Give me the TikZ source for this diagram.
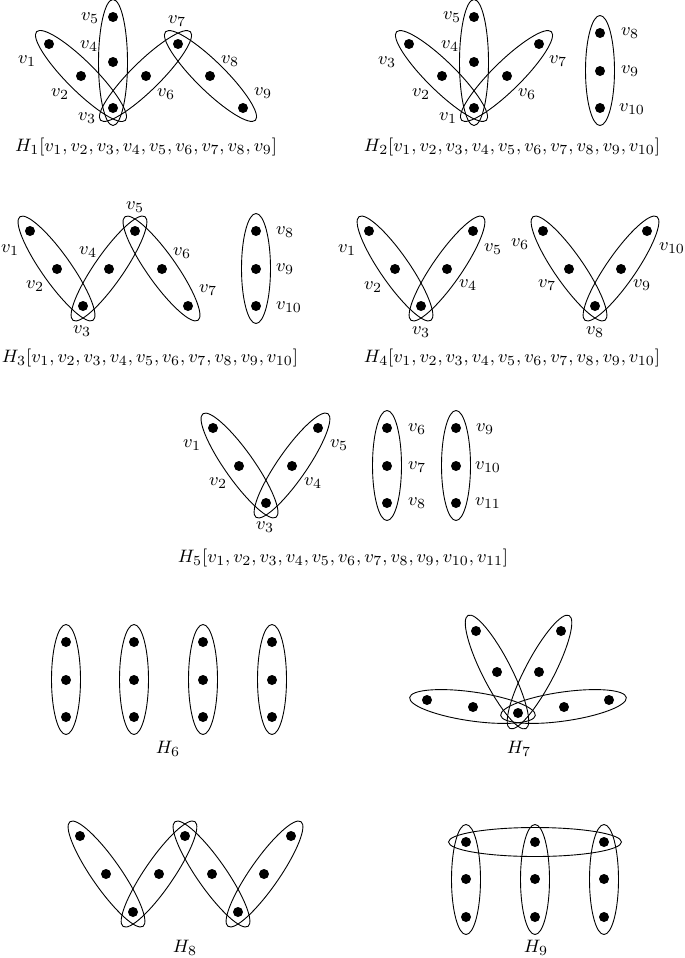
\documentclass[tikz,border=0pt]{standalone}
\usetikzlibrary{calc,shapes.geometric}
\tikzset{
  dot/.style={circle,fill=black,inner sep=0pt,minimum size=5pt},
  edgeel/.style={draw=black,line width=0.45pt,ellipse,inner sep=0pt,minimum height=14.5pt},
  lbl/.style={inner sep=0pt,font=\fontsize{9.4pt}{11pt}\selectfont},
  ttl/.style={inner sep=0pt,font=\fontsize{9.3pt}{11pt}\selectfont}
}
\newcommand{\hedge}[3]{%
  \path let \p1=($(#3)-(#2)$), \n1={atan2(\y1,\x1)}, \n2={veclen(\x1,\y1)} in
    node[edgeel, minimum width=\n2+17.5pt, rotate=\n1] (#1) at ($(#2)!0.5!(#3)$) {};}
\begin{document}
\begin{tikzpicture}[x=0.5pt,y=-0.5pt]
\useasboundingbox (0,0) rectangle (685,958);
% ---------- H1 ----------
\node[dot] (a1) at (49,44) {};
\node[dot] (a2) at (81,76) {};
\node[dot] (a3) at (113,108) {};
\node[dot] (a4) at (113,62) {};
\node[dot] (a5) at (113,17) {};
\node[dot] (a6) at (146,76) {};
\node[dot] (a7) at (178,44) {};
\node[dot] (a8) at (210,76) {};
\node[dot] (a9) at (243,108) {};
\hedge{ea1}{a1}{a3}
\hedge{ea2}{a5}{a3}
\hedge{ea3}{a3}{a7}
\hedge{ea4}{a7}{a9}
\node[lbl] (la1) at (27,61) {$v_1$};
\node[lbl] (la2) at (60,94) {$v_2$};
\node[lbl] (la3) at (87,118) {$v_3$};
\node[lbl] (la4) at (89,46) {$v_4$};
\node[lbl] (la5) at (90,18) {$v_5$};
\node[lbl] (la6) at (166,94) {$v_6$};
\node[lbl] (la7) at (177,21) {$v_7$};
\node[lbl] (la8) at (230,61) {$v_8$};
\node[lbl] (la9) at (263,93) {$v_9$};
\node[ttl] (ta) at (146,147) {$H_1[v_1,v_2,v_3,v_4,v_5,v_6,v_7,v_8,v_9]$};
% ---------- H2 ----------
\node[dot] (b5) at (474,17) {};
\node[dot] (b4) at (474,62) {};
\node[dot] (b1) at (474,108) {};
\node[dot] (b3) at (409,44) {};
\node[dot] (b2) at (442,76) {};
\node[dot] (b6) at (507,76) {};
\node[dot] (b7) at (539,44) {};
\node[dot] (b8) at (600,33) {};
\node[dot] (b9) at (600,71) {};
\node[dot] (b10) at (600,108) {};
\hedge{eb1}{b3}{b1}
\hedge{eb2}{b5}{b1}
\hedge{eb3}{b1}{b7}
\hedge{eb4}{b8}{b10}
\node[lbl] (lb5) at (452,17) {$v_5$};
\node[lbl] (lb4) at (450,46) {$v_4$};
\node[lbl] (lb3) at (387,62) {$v_3$};
\node[lbl] (lb2) at (421,94) {$v_2$};
\node[lbl] (lb1) at (448,118) {$v_1$};
\node[lbl] (lb6) at (527,94) {$v_6$};
\node[lbl] (lb7) at (558,61) {$v_7$};
\node[lbl] (lb8) at (630,33) {$v_8$};
\node[lbl] (lb9) at (630,71) {$v_9$};
\node[lbl] (lb10) at (632,109) {$v_{10}$};
\node[ttl] (tb) at (512,147) {$H_2[v_1,v_2,v_3,v_4,v_5,v_6,v_7,v_8,v_9,v_{10}]$};
% ---------- H3 ----------
\node[dot] (c1) at (30,231) {};
\node[dot] (c2) at (57,269) {};
\node[dot] (c3) at (83,306) {};
\node[dot] (c4) at (109,269) {};
\node[dot] (c5) at (135,231) {};
\node[dot] (c6) at (162,269) {};
\node[dot] (c7) at (188,306) {};
\node[dot] (c8) at (256,231) {};
\node[dot] (c9) at (256,269) {};
\node[dot] (c10) at (256,306) {};
\hedge{ec1}{c1}{c3}
\hedge{ec2}{c3}{c5}
\hedge{ec3}{c5}{c7}
\hedge{ec4}{c8}{c10}
\node[lbl] (lc1) at (10,250) {$v_1$};
\node[lbl] (lc2) at (35,286) {$v_2$};
\node[lbl] (lc3) at (82,331) {$v_3$};
\node[lbl] (lc4) at (88,252) {$v_4$};
\node[lbl] (lc5) at (135,207) {$v_5$};
\node[lbl] (lc6) at (182,253) {$v_6$};
\node[lbl] (lc7) at (208,290) {$v_7$};
\node[lbl] (lc8) at (285,232) {$v_8$};
\node[lbl] (lc9) at (285,269) {$v_9$};
\node[lbl] (lc10) at (289,307) {$v_{10}$};
\node[ttl] (tc) at (150,358) {$H_3[v_1,v_2,v_3,v_4,v_5,v_6,v_7,v_8,v_9,v_{10}]$};
% ---------- H4 ----------
\node[dot] (d1) at (369,231) {};
\node[dot] (d2) at (395,269) {};
\node[dot] (d3) at (421,306) {};
\node[dot] (d4) at (447,269) {};
\node[dot] (d5) at (473,231) {};
\node[dot] (d6) at (543,231) {};
\node[dot] (d7) at (569,269) {};
\node[dot] (d8) at (595,306) {};
\node[dot] (d9) at (621,269) {};
\node[dot] (d10) at (647,231) {};
\hedge{ed1}{d1}{d3}
\hedge{ed2}{d3}{d5}
\hedge{ed3}{d6}{d8}
\hedge{ed4}{d8}{d10}
\node[lbl] (ld1) at (347,250) {$v_1$};
\node[lbl] (ld2) at (373,287) {$v_2$};
\node[lbl] (ld3) at (421,332) {$v_3$};
\node[lbl] (ld4) at (468,285) {$v_4$};
\node[lbl] (ld5) at (493,249) {$v_5$};
\node[lbl] (ld6) at (520,244) {$v_6$};
\node[lbl] (ld7) at (547,285) {$v_7$};
\node[lbl] (ld8) at (595,332) {$v_8$};
\node[lbl] (ld9) at (642,285) {$v_9$};
\node[lbl] (ld10) at (672,248) {$v_{10}$};
\node[ttl] (td) at (512,358) {$H_4[v_1,v_2,v_3,v_4,v_5,v_6,v_7,v_8,v_9,v_{10}]$};
% ---------- H5 ----------
\node[dot] (e1) at (213,428) {};
\node[dot] (e2) at (239,466) {};
\node[dot] (e3) at (266,503) {};
\node[dot] (e4) at (292,466) {};
\node[dot] (e5) at (318,428) {};
\node[dot] (e6) at (387,428) {};
\node[dot] (e7) at (387,466) {};
\node[dot] (e8) at (387,503) {};
\node[dot] (e9) at (456,428) {};
\node[dot] (e10) at (456,466) {};
\node[dot] (e11) at (456,503) {};
\hedge{ee1}{e1}{e3}
\hedge{ee2}{e3}{e5}
\hedge{ee3}{e6}{e8}
\hedge{ee4}{e9}{e11}
\node[lbl] (le1) at (192,445) {$v_1$};
\node[lbl] (le2) at (218,483) {$v_2$};
\node[lbl] (le3) at (265,527) {$v_3$};
\node[lbl] (le4) at (313,483) {$v_4$};
\node[lbl] (le5) at (339,445) {$v_5$};
\node[lbl] (le6) at (417,429) {$v_6$};
\node[lbl] (le7) at (417,467) {$v_7$};
\node[lbl] (le8) at (417,503) {$v_8$};
\node[lbl] (le9) at (485,429) {$v_9$};
\node[lbl] (le10) at (488,467) {$v_{10}$};
\node[lbl] (le11) at (488,503) {$v_{11}$};
\node[ttl] (te) at (343,558) {$H_5[v_1,v_2,v_3,v_4,v_5,v_6,v_7,v_8,v_9,v_{10},v_{11}]$};
% ---------- H6 ----------
\foreach \i/\x in {1/66,2/134,3/203,4/272}{
  \node[dot] (f\i a) at (\x,642) {};
  \node[dot] (f\i b) at (\x,680) {};
  \node[dot] (f\i c) at (\x,717) {};
  \hedge{ef\i}{f\i a}{f\i c}
}
\node[ttl] (tf) at (168,749) {$H_6$};
% ---------- H7 ----------
\node[dot] (gc) at (518,713) {};
\node[dot] (gtl) at (476,631) {};
\node[dot] (gml) at (497,672) {};
\node[dot] (gtr) at (561,631) {};
\node[dot] (gmr) at (539,672) {};
\node[dot] (glf) at (427,700) {};
\node[dot] (gln) at (473,707) {};
\node[dot] (grn) at (564,707) {};
\node[dot] (grf) at (609,700) {};
\hedge{eg1}{gtl}{gc}
\hedge{eg2}{gtr}{gc}
\hedge{eg3}{glf}{gc}
\hedge{eg4}{grf}{gc}
\node[ttl] (tg) at (519,749) {$H_7$};
% ---------- H8 ----------
\node[dot] (h1) at (80,836) {};
\node[dot] (h2) at (106,874) {};
\node[dot] (h3) at (133,912) {};
\node[dot] (h4) at (159,874) {};
\node[dot] (h5) at (185,836) {};
\node[dot] (h6) at (212,874) {};
\node[dot] (h7) at (238,912) {};
\node[dot] (h8) at (264,874) {};
\node[dot] (h9) at (291,836) {};
\hedge{eh1}{h1}{h3}
\hedge{eh2}{h3}{h5}
\hedge{eh3}{h5}{h7}
\hedge{eh4}{h7}{h9}
\node[ttl] (th) at (185,948) {$H_8$};
% ---------- H9 ----------
\foreach \i/\x in {1/466,2/535,3/604}{
  \node[dot] (k\i a) at (\x,842) {};
  \node[dot] (k\i b) at (\x,879) {};
  \node[dot] (k\i c) at (\x,917) {};
  \hedge{ek\i}{k\i a}{k\i c}
}
\hedge{ek4}{k1a}{k3a}
\node[ttl] (tk) at (536,948) {$H_9$};
\end{tikzpicture}
\end{document}
